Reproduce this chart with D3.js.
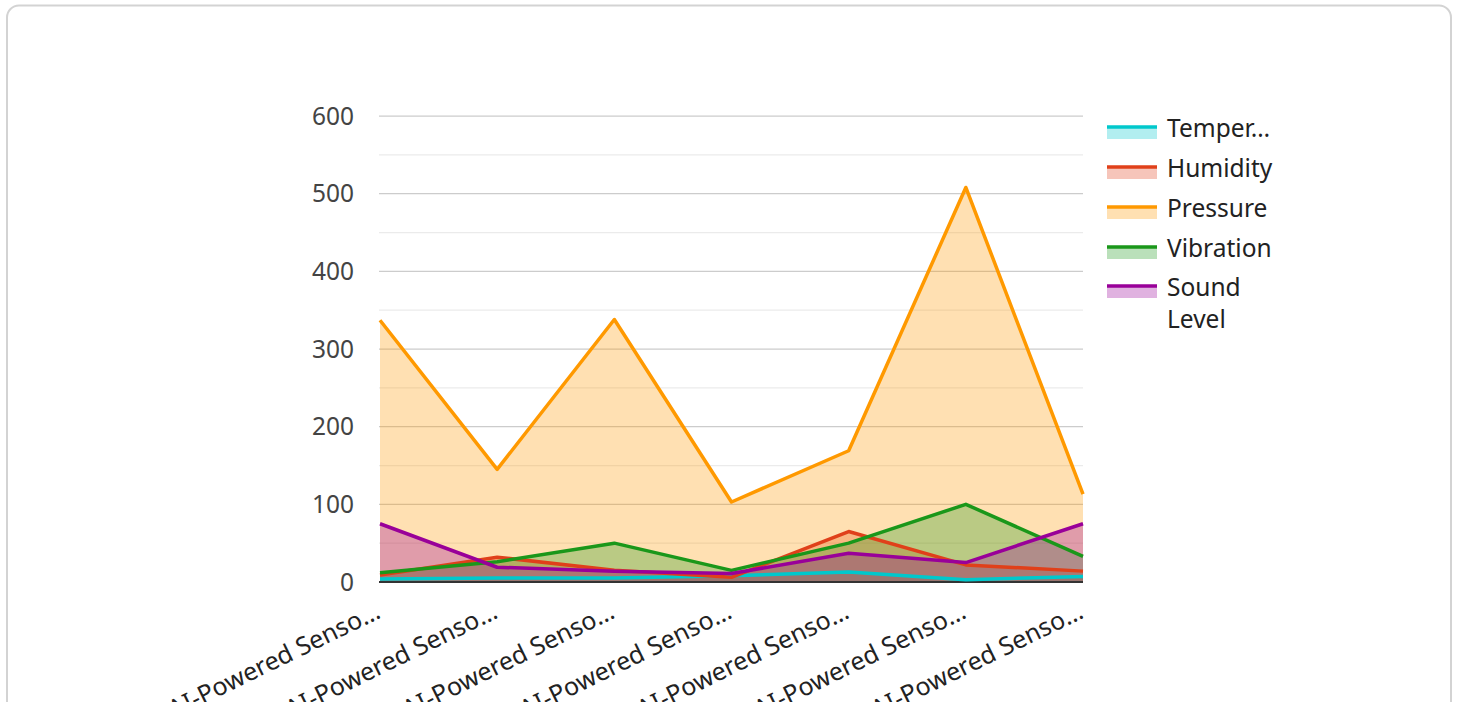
<!DOCTYPE html>
<html>
<head>
<meta charset="utf-8">
<script src="https://cdn.jsdelivr.net/npm/d3@7/dist/d3.min.js"></script>
<style>
  html, body { margin: 0; padding: 0; background: #fff; overflow: hidden; }
  svg { display: block; font-family: "Noto Sans", "Open Sans", sans-serif; }
</style>
</head>
<body>
<svg id="chart" width="1458" height="702"></svg>
<script>
const categories = ["AI-Powered Senso…", "AI-Powered Senso…", "AI-Powered Senso…", "AI-Powered Senso…", "AI-Powered Senso…", "AI-Powered Senso…", "AI-Powered Senso…"];
const seriesNames = ["Temperature", "Humidity", "Pressure", "Vibration", "Sound Level"];
const legendLabels = [["Temper…"], ["Humidity"], ["Pressure"], ["Vibration"], ["Sound", "Level"]];
const temperature = [4, 5, 5, 8, 13, 3, 7];
const humidity = [9, 32, 15, 6, 65, 22, 14];
const pressure = [337, 145, 338, 103, 169, 508, 113];
const vibration = [12, 26, 50, 15, 50, 100, 33];
const soundLevel = [75, 19, 14, 11, 37, 25, 75];
const colors = ["#00c8cc", "#e0401a", "#ff9900", "#1a971a", "#990099"];
const yTicks = [0, 100, 200, 300, 400, 500, 600];

(function () {
const values = [temperature, humidity, pressure, vibration, soundLevel];
const svg = d3.select("#chart");

// frame
svg.append("rect").attr("x", 7).attr("y", 5.5).attr("width", 1444).attr("height", 760)
  .attr("rx", 12).attr("fill", "#fff").attr("stroke", "#d3d3d3").attr("stroke-width", 2);

const pl = 380, pr = 1083, pt = 116, pb = 582;
const x = d3.scalePoint().domain(d3.range(categories.length)).range([pl, pr]);
const y = d3.scaleLinear().domain([0, 600]).range([pb, pt]);

// minor gridlines
const minor = d3.range(50, 600, 100);
svg.append("g").selectAll("line").data(minor).join("line")
  .attr("x1", pl - 1).attr("x2", pr).attr("y1", d => y(d)).attr("y2", d => y(d))
  .attr("stroke", "#ebebeb").attr("stroke-width", 1.25);
// major gridlines
svg.append("g").selectAll("line").data(yTicks.slice(1)).join("line")
  .attr("x1", pl - 1).attr("x2", pr).attr("y1", d => y(d)).attr("y2", d => y(d))
  .attr("stroke", "#cccccc").attr("stroke-width", 1.25);

// y tick labels
svg.append("g").selectAll("text").data(yTicks).join("text")
  .attr("x", 354).attr("y", d => y(d)).attr("dy", "0.35em")
  .attr("text-anchor", "end").attr("font-size", 24.5).attr("fill", "#444")
  .text(d => d);

// areas
const area = d3.area().x((d, i) => x(i)).y0(y(0)).y1(d => y(d));
const line = d3.line().x((d, i) => x(i)).y(d => y(d));
svg.append("g").selectAll("path").data(values).join("path")
  .attr("d", d => area(d)).attr("fill", (d, i) => colors[i]).attr("fill-opacity", 0.3);

// baseline
svg.append("line").attr("x1", pl - 1).attr("x2", pr).attr("y1", y(0)).attr("y2", y(0))
  .attr("stroke", "#333").attr("stroke-width", 2);

// lines
svg.append("g").selectAll("path").data(values).join("path")
  .attr("d", d => line(d)).attr("fill", "none").attr("stroke", (d, i) => colors[i])
  .attr("stroke-width", 3.5).attr("stroke-linejoin", "round");

// x labels
svg.append("g").selectAll("text").data(categories).join("text")
  .attr("transform", (d, i) => `translate(${x(i) + 2},${617}) rotate(-26)`)
  .attr("text-anchor", "end").attr("font-size", 25).attr("fill", "#222")
  .text(d => d);

// legend
const lg = svg.append("g");
const rowY = [127, 167, 207, 247, 286];
seriesNames.forEach((name, i) => {
  const g = lg.append("g");
  g.append("rect").attr("x", 1107).attr("y", rowY[i]).attr("width", 50).attr("height", 12)
    .attr("fill", colors[i]).attr("fill-opacity", 0.3);
  g.append("line").attr("x1", 1107).attr("x2", 1157).attr("y1", rowY[i]).attr("y2", rowY[i])
    .attr("stroke", colors[i]).attr("stroke-width", 3.5);
  legendLabels[i].forEach((t, k) => {
    g.append("text").attr("x", 1167).attr("y", rowY[i] + 1 + k * 32).attr("dy", "0.35em")
      .attr("font-size", 24.5).attr("fill", "#222").text(t);
  });
});
})();
</script>
</body>
</html>
